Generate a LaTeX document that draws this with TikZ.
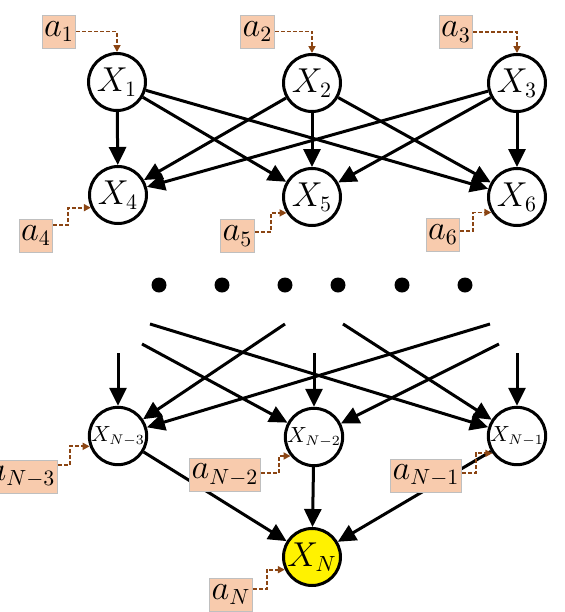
\documentclass[tikz,border=0pt]{standalone}
\usetikzlibrary{arrows.meta}
\definecolor{peach}{RGB}{248,203,173}
\definecolor{abrown}{RGB}{139,69,19}
\begin{document}
\begin{tikzpicture}[x=0.5pt,y=-0.5pt,
  var/.style={circle,draw,line width=1.5pt,minimum size=28.5pt,inner sep=0pt,fill=white,font=\fontsize{16}{18}\selectfont},
  varsmall/.style={var,font=\fontsize{10.5}{12}\selectfont},
  ext/.style={draw=gray!50,line width=0.4pt,fill=peach,font=\fontsize{16}{18}\selectfont,minimum height=16.5pt,inner sep=1pt},
  edge/.style={line width=1.5pt,-{Triangle[length=9pt,width=8.5pt]}},
  aedge/.style={draw=abrown,line width=0.85pt,dash pattern=on 2pt off 1pt,-{Triangle[length=3.5pt,width=3.5pt]}},
  dot/.style={circle,fill=black,minimum size=7.5pt,inner sep=0pt}]
\useasboundingbox (0,0) rectangle (564,612);
\clip (0,0) rectangle (564,612);
% top layers
\node[var] (X1) at (117,82) {$X_1$};
\node[var] (X2) at (312,83) {$X_2$};
\node[var] (X3) at (517,83) {$X_3$};
\node[var] (X4) at (118,195) {$X_4$};
\node[var] (X5) at (312,197) {$X_5$};
\node[var] (X6) at (517,197) {$X_6$};
\foreach \s in {X1,X2,X3}
  \foreach \t in {X4,X5,X6}
    \draw[edge] (\s) -- (\t);
% externals top
\node[ext] (a1) at (59,31.5) {$a_1$};
\node[ext] (a2) at (257.5,31.5) {$a_2$};
\node[ext] (a3) at (456,32) {$a_3$};
\node[ext] (a4) at (36,235.5) {$a_4$};
\node[ext] (a5) at (237.5,236) {$a_5$};
\node[ext] (a6) at (443,234.5) {$a_6$};
\draw[aedge] (a1.east) -| (X1.north);
\draw[aedge] (a2.east) -| (X2.north);
\draw[aedge] (a3.east) -| (X3.north);
\draw[aedge] (a4.east) ++(0,-10.5) -- ++(15,0) |- (X4.205);
\draw[aedge] (a5.east) ++(0,-4) -- ++(16,0) |- (X5.212);
\draw[aedge] (a6.east) ++(0,-3.5) -- ++(13,0) |- (X6.211);
% dots
\foreach \x [count=\i] in {159,222,285,338,402,465}
  \node[dot] (d\i) at (\x,285) {};
% bottom layer
\node[varsmall] (XN3) at (118,436) {$X_{N-3}$};
\node[varsmall] (XN2) at (314,437) {$X_{N-2}$};
\node[varsmall] (XN1) at (517,436) {$X_{N-1}$};
\node[var,fill=yellow] (XN) at (312,557) {$X_N$};
\coordinate (l1) at (150,324);
\coordinate (l2) at (142,344);
\coordinate (l3) at (118,353);
\coordinate (m1) at (285,324);
\coordinate (m2) at (314,353);
\coordinate (m3) at (343,324);
\coordinate (r1) at (490,324);
\coordinate (r2) at (499,344);
\coordinate (r3) at (517,353);
\draw[edge] (l1) -- (XN1);
\draw[edge] (l2) -- (XN2);
\draw[edge] (l3) -- (XN3);
\draw[edge] (m1) -- (XN3);
\draw[edge] (m2) -- (XN2);
\draw[edge] (m3) -- (XN1);
\draw[edge] (r1) -- (XN3);
\draw[edge] (r2) -- (XN2);
\draw[edge] (r3) -- (XN1);
\draw[edge] (XN3) -- (XN);
\draw[edge] (XN2) -- (XN);
\draw[edge] (XN1) -- (XN);
% externals bottom
\node[ext] (aN3) at (22,476.5) {$a_{N-3}$};
\node[ext] (aN2) at (225,475) {$a_{N-2}$};
\node[ext] (aN1) at (426,475.5) {$a_{N-1}$};
\node[ext] (aN) at (231,594.5) {$a_N$};
\draw[aedge] (aN3.east) ++(0,-11.5) -- ++(12,0) |- (XN3.200);
\draw[aedge] (aN2.east) ++(0,-2) -- ++(18,0) |- (XN2.219);
\draw[aedge] (aN1.east) ++(0,-2.5) -- ++(14,0) |- (XN1.215);
\draw[aedge] (aN.east) ++(0,-5.5) -- ++(14,0) |- (XN.205);
\end{tikzpicture}
\end{document}
